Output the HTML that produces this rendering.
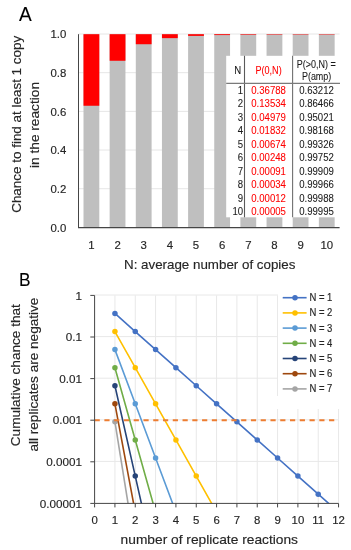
<!DOCTYPE html>
<html><head><meta charset="utf-8"><style>
html,body{margin:0;padding:0;background:#fff;width:351px;height:550px;overflow:hidden}
svg{display:block;font-family:"Liberation Sans", Arial, sans-serif}
</style></head><body>
<svg width="351" height="550" viewBox="0 0 351 550">
<rect width="351" height="550" fill="#fff"/>
<line x1="78.5" y1="188.72" x2="339.6" y2="188.72" stroke="#e6e6e6" stroke-width="1"/>
<line x1="78.5" y1="150.04" x2="339.6" y2="150.04" stroke="#e6e6e6" stroke-width="1"/>
<line x1="78.5" y1="111.36" x2="339.6" y2="111.36" stroke="#e6e6e6" stroke-width="1"/>
<line x1="78.5" y1="72.68" x2="339.6" y2="72.68" stroke="#e6e6e6" stroke-width="1"/>
<line x1="78.5" y1="34.0" x2="339.6" y2="34.0" stroke="#e6e6e6" stroke-width="1"/>
<rect x="83.50" y="34.20" width="15.8" height="193.40" fill="#bfbfbf"/>
<rect x="83.50" y="34.20" width="15.8" height="71.55" fill="#ff0000"/>
<rect x="109.65" y="34.20" width="15.8" height="193.40" fill="#bfbfbf"/>
<rect x="109.65" y="34.20" width="15.8" height="26.57" fill="#ff0000"/>
<rect x="135.80" y="34.20" width="15.8" height="193.40" fill="#bfbfbf"/>
<rect x="135.80" y="34.20" width="15.8" height="10.03" fill="#ff0000"/>
<rect x="161.95" y="34.20" width="15.8" height="193.40" fill="#bfbfbf"/>
<rect x="161.95" y="34.20" width="15.8" height="3.94" fill="#ff0000"/>
<rect x="188.10" y="34.20" width="15.8" height="193.40" fill="#bfbfbf"/>
<rect x="188.10" y="34.20" width="15.8" height="1.70" fill="#ff0000"/>
<rect x="214.25" y="34.20" width="15.8" height="193.40" fill="#bfbfbf"/>
<rect x="214.25" y="34.20" width="15.8" height="0.88" fill="#ff0000"/>
<rect x="240.40" y="34.20" width="15.8" height="193.40" fill="#bfbfbf"/>
<rect x="240.40" y="34.20" width="15.8" height="0.58" fill="#ff0000"/>
<rect x="266.55" y="34.20" width="15.8" height="193.40" fill="#bfbfbf"/>
<rect x="266.55" y="34.20" width="15.8" height="0.47" fill="#ff0000"/>
<rect x="292.70" y="34.20" width="15.8" height="193.40" fill="#bfbfbf"/>
<rect x="292.70" y="34.20" width="15.8" height="0.42" fill="#ff0000"/>
<rect x="318.85" y="34.20" width="15.8" height="193.40" fill="#bfbfbf"/>
<rect x="318.85" y="34.20" width="15.8" height="0.41" fill="#ff0000"/>
<line x1="78.5" y1="34.2" x2="78.5" y2="227.6" stroke="#454545" stroke-width="1"/>
<line x1="78.0" y1="227.7" x2="339.6" y2="227.7" stroke="#454545" stroke-width="1.2"/>
<text x="66.3" y="231.70" text-anchor="end" font-size="11.4" fill="#262626" stroke="#262626" stroke-width="0.15">0.0</text>
<text x="66.3" y="193.02" text-anchor="end" font-size="11.4" fill="#262626" stroke="#262626" stroke-width="0.15">0.2</text>
<text x="66.3" y="154.34" text-anchor="end" font-size="11.4" fill="#262626" stroke="#262626" stroke-width="0.15">0.4</text>
<text x="66.3" y="115.66" text-anchor="end" font-size="11.4" fill="#262626" stroke="#262626" stroke-width="0.15">0.6</text>
<text x="66.3" y="76.98" text-anchor="end" font-size="11.4" fill="#262626" stroke="#262626" stroke-width="0.15">0.8</text>
<text x="66.3" y="38.30" text-anchor="end" font-size="11.4" fill="#262626" stroke="#262626" stroke-width="0.15">1.0</text>
<text x="91.40" y="249.1" text-anchor="middle" font-size="11.4" fill="#262626" stroke="#262626" stroke-width="0.15">1</text>
<text x="117.55" y="249.1" text-anchor="middle" font-size="11.4" fill="#262626" stroke="#262626" stroke-width="0.15">2</text>
<text x="143.70" y="249.1" text-anchor="middle" font-size="11.4" fill="#262626" stroke="#262626" stroke-width="0.15">3</text>
<text x="169.85" y="249.1" text-anchor="middle" font-size="11.4" fill="#262626" stroke="#262626" stroke-width="0.15">4</text>
<text x="196.00" y="249.1" text-anchor="middle" font-size="11.4" fill="#262626" stroke="#262626" stroke-width="0.15">5</text>
<text x="222.15" y="249.1" text-anchor="middle" font-size="11.4" fill="#262626" stroke="#262626" stroke-width="0.15">6</text>
<text x="248.30" y="249.1" text-anchor="middle" font-size="11.4" fill="#262626" stroke="#262626" stroke-width="0.15">7</text>
<text x="274.45" y="249.1" text-anchor="middle" font-size="11.4" fill="#262626" stroke="#262626" stroke-width="0.15">8</text>
<text x="300.60" y="249.1" text-anchor="middle" font-size="11.4" fill="#262626" stroke="#262626" stroke-width="0.15">9</text>
<text x="326.75" y="249.1" text-anchor="middle" font-size="11.4" fill="#262626" stroke="#262626" stroke-width="0.15">10</text>
<text x="209.7" y="269.3" text-anchor="middle" font-size="13.4" fill="#262626" stroke="#262626" stroke-width="0.15" textLength="171.4" lengthAdjust="spacingAndGlyphs">N: average number of copies</text>
<text transform="translate(21.4,124.3) rotate(-90)" text-anchor="middle" font-size="13.4" fill="#262626" stroke="#262626" stroke-width="0.15" textLength="177" lengthAdjust="spacingAndGlyphs">Chance to find at least 1 copy</text>
<text transform="translate(39.2,125) rotate(-90)" text-anchor="middle" font-size="13.4" fill="#262626" stroke="#262626" stroke-width="0.15" textLength="86" lengthAdjust="spacingAndGlyphs">in the reaction</text>
<text transform="translate(18.9,20.9) scale(0.96,1)" font-size="19.9" fill="#000" stroke="#000" stroke-width="0.08">A</text>
<rect x="226.2" y="55.8" width="113.80000000000001" height="161.5" fill="#fff"/>
<line x1="244.5" y1="55.8" x2="244.5" y2="217.3" stroke="#5a5a5a" stroke-width="1.1"/>
<line x1="292.6" y1="55.8" x2="292.6" y2="217.3" stroke="#707070" stroke-width="1.1"/>
<line x1="226.2" y1="83.4" x2="340" y2="83.4" stroke="#7a7a7a" stroke-width="1.1"/>
<text transform="translate(237.80,73.60) scale(0.9320,1)" text-anchor="middle" font-size="10.3" fill="#1a1a1a" stroke="#1a1a1a" stroke-width="0.08">N</text>
<text transform="translate(268.60,74.00) scale(0.8800,1)" text-anchor="middle" font-size="10.3" fill="#ff0000" stroke="#ff0000" stroke-width="0.08">P(0,N)</text>
<text transform="translate(316.30,67.70) scale(0.8735,1)" text-anchor="middle" font-size="10.3" fill="#1a1a1a" stroke="#1a1a1a" stroke-width="0.08">P(&gt;0,N) =</text>
<text transform="translate(316.60,80.10) scale(0.8708,1)" text-anchor="middle" font-size="10.3" fill="#1a1a1a" stroke="#1a1a1a" stroke-width="0.08">P(amp)</text>
<text transform="translate(243.20,93.90) scale(0.9320,1)" text-anchor="end" font-size="10.3" fill="#1a1a1a" stroke="#1a1a1a" stroke-width="0.08">1</text>
<text transform="translate(268.60,93.90) scale(0.9320,1)" text-anchor="middle" font-size="10.3" fill="#ff0000" stroke="#ff0000" stroke-width="0.08">0.36788</text>
<text transform="translate(316.50,93.90) scale(0.9320,1)" text-anchor="middle" font-size="10.3" fill="#1a1a1a" stroke="#1a1a1a" stroke-width="0.08">0.63212</text>
<text transform="translate(243.20,107.35) scale(0.9320,1)" text-anchor="end" font-size="10.3" fill="#1a1a1a" stroke="#1a1a1a" stroke-width="0.08">2</text>
<text transform="translate(268.60,107.35) scale(0.9320,1)" text-anchor="middle" font-size="10.3" fill="#ff0000" stroke="#ff0000" stroke-width="0.08">0.13534</text>
<text transform="translate(316.50,107.35) scale(0.9320,1)" text-anchor="middle" font-size="10.3" fill="#1a1a1a" stroke="#1a1a1a" stroke-width="0.08">0.86466</text>
<text transform="translate(243.20,120.80) scale(0.9320,1)" text-anchor="end" font-size="10.3" fill="#1a1a1a" stroke="#1a1a1a" stroke-width="0.08">3</text>
<text transform="translate(268.60,120.80) scale(0.9320,1)" text-anchor="middle" font-size="10.3" fill="#ff0000" stroke="#ff0000" stroke-width="0.08">0.04979</text>
<text transform="translate(316.50,120.80) scale(0.9320,1)" text-anchor="middle" font-size="10.3" fill="#1a1a1a" stroke="#1a1a1a" stroke-width="0.08">0.95021</text>
<text transform="translate(243.20,134.25) scale(0.9320,1)" text-anchor="end" font-size="10.3" fill="#1a1a1a" stroke="#1a1a1a" stroke-width="0.08">4</text>
<text transform="translate(268.60,134.25) scale(0.9320,1)" text-anchor="middle" font-size="10.3" fill="#ff0000" stroke="#ff0000" stroke-width="0.08">0.01832</text>
<text transform="translate(316.50,134.25) scale(0.9320,1)" text-anchor="middle" font-size="10.3" fill="#1a1a1a" stroke="#1a1a1a" stroke-width="0.08">0.98168</text>
<text transform="translate(243.20,147.70) scale(0.9320,1)" text-anchor="end" font-size="10.3" fill="#1a1a1a" stroke="#1a1a1a" stroke-width="0.08">5</text>
<text transform="translate(268.60,147.70) scale(0.9320,1)" text-anchor="middle" font-size="10.3" fill="#ff0000" stroke="#ff0000" stroke-width="0.08">0.00674</text>
<text transform="translate(316.50,147.70) scale(0.9320,1)" text-anchor="middle" font-size="10.3" fill="#1a1a1a" stroke="#1a1a1a" stroke-width="0.08">0.99326</text>
<text transform="translate(243.20,161.15) scale(0.9320,1)" text-anchor="end" font-size="10.3" fill="#1a1a1a" stroke="#1a1a1a" stroke-width="0.08">6</text>
<text transform="translate(268.60,161.15) scale(0.9320,1)" text-anchor="middle" font-size="10.3" fill="#ff0000" stroke="#ff0000" stroke-width="0.08">0.00248</text>
<text transform="translate(316.50,161.15) scale(0.9320,1)" text-anchor="middle" font-size="10.3" fill="#1a1a1a" stroke="#1a1a1a" stroke-width="0.08">0.99752</text>
<text transform="translate(243.20,174.60) scale(0.9320,1)" text-anchor="end" font-size="10.3" fill="#1a1a1a" stroke="#1a1a1a" stroke-width="0.08">7</text>
<text transform="translate(268.60,174.60) scale(0.9320,1)" text-anchor="middle" font-size="10.3" fill="#ff0000" stroke="#ff0000" stroke-width="0.08">0.00091</text>
<text transform="translate(316.50,174.60) scale(0.9320,1)" text-anchor="middle" font-size="10.3" fill="#1a1a1a" stroke="#1a1a1a" stroke-width="0.08">0.99909</text>
<text transform="translate(243.20,188.05) scale(0.9320,1)" text-anchor="end" font-size="10.3" fill="#1a1a1a" stroke="#1a1a1a" stroke-width="0.08">8</text>
<text transform="translate(268.60,188.05) scale(0.9320,1)" text-anchor="middle" font-size="10.3" fill="#ff0000" stroke="#ff0000" stroke-width="0.08">0.00034</text>
<text transform="translate(316.50,188.05) scale(0.9320,1)" text-anchor="middle" font-size="10.3" fill="#1a1a1a" stroke="#1a1a1a" stroke-width="0.08">0.99966</text>
<text transform="translate(243.20,201.50) scale(0.9320,1)" text-anchor="end" font-size="10.3" fill="#1a1a1a" stroke="#1a1a1a" stroke-width="0.08">9</text>
<text transform="translate(268.60,201.50) scale(0.9320,1)" text-anchor="middle" font-size="10.3" fill="#ff0000" stroke="#ff0000" stroke-width="0.08">0.00012</text>
<text transform="translate(316.50,201.50) scale(0.9320,1)" text-anchor="middle" font-size="10.3" fill="#1a1a1a" stroke="#1a1a1a" stroke-width="0.08">0.99988</text>
<text transform="translate(243.20,214.95) scale(0.9320,1)" text-anchor="end" font-size="10.3" fill="#1a1a1a" stroke="#1a1a1a" stroke-width="0.08">10</text>
<text transform="translate(268.60,214.95) scale(0.9320,1)" text-anchor="middle" font-size="10.3" fill="#ff0000" stroke="#ff0000" stroke-width="0.08">0.00005</text>
<text transform="translate(316.50,214.95) scale(0.9320,1)" text-anchor="middle" font-size="10.3" fill="#1a1a1a" stroke="#1a1a1a" stroke-width="0.08">0.99995</text>
<line x1="94.6" y1="295.0" x2="278" y2="295.0" stroke="#e8e8e8" stroke-width="1"/>
<line x1="94.6" y1="336.6" x2="278" y2="336.6" stroke="#e8e8e8" stroke-width="1"/>
<line x1="94.6" y1="378.2" x2="278" y2="378.2" stroke="#e8e8e8" stroke-width="1"/>
<line x1="94.6" y1="419.8" x2="338.55999999999995" y2="419.8" stroke="#e8e8e8" stroke-width="1"/>
<line x1="94.6" y1="461.4" x2="338.55999999999995" y2="461.4" stroke="#e8e8e8" stroke-width="1"/>
<line x1="114.93" y1="295.4" x2="114.93" y2="503.4" stroke="#e8e8e8" stroke-width="1"/>
<line x1="135.26" y1="295.4" x2="135.26" y2="503.4" stroke="#e8e8e8" stroke-width="1"/>
<line x1="155.59" y1="295.4" x2="155.59" y2="503.4" stroke="#e8e8e8" stroke-width="1"/>
<line x1="175.92" y1="295.4" x2="175.92" y2="503.4" stroke="#e8e8e8" stroke-width="1"/>
<line x1="196.25" y1="295.4" x2="196.25" y2="503.4" stroke="#e8e8e8" stroke-width="1"/>
<line x1="216.58" y1="295.4" x2="216.58" y2="503.4" stroke="#e8e8e8" stroke-width="1"/>
<line x1="236.91" y1="295.4" x2="236.91" y2="503.4" stroke="#e8e8e8" stroke-width="1"/>
<line x1="257.24" y1="295.4" x2="257.24" y2="503.4" stroke="#e8e8e8" stroke-width="1"/>
<line x1="277.57" y1="295.4" x2="277.57" y2="396" stroke="#e8e8e8" stroke-width="1"/>
<line x1="277.57" y1="409" x2="277.57" y2="503.4" stroke="#e8e8e8" stroke-width="1"/>
<line x1="297.9" y1="409" x2="297.9" y2="503.4" stroke="#e8e8e8" stroke-width="1"/>
<line x1="318.23" y1="409" x2="318.23" y2="503.4" stroke="#e8e8e8" stroke-width="1"/>
<line x1="338.56" y1="409" x2="338.56" y2="503.4" stroke="#e8e8e8" stroke-width="1"/>
<defs><clipPath id="cp"><rect x="94.6" y="290.4" width="248.95999999999995" height="213.0"/></clipPath></defs>
<polyline points="114.93,421.87 135.26,548.33" fill="none" stroke="#a5a5a5" stroke-width="1.6" clip-path="url(#cp)"/>
<circle cx="114.93" cy="421.87" r="2.75" fill="#a5a5a5"/>
<polyline points="114.93,403.80 135.26,512.20" fill="none" stroke="#9e480e" stroke-width="1.6" clip-path="url(#cp)"/>
<circle cx="114.93" cy="403.80" r="2.75" fill="#9e480e"/>
<polyline points="114.93,385.73 135.26,476.07 155.59,566.40" fill="none" stroke="#264478" stroke-width="1.6" clip-path="url(#cp)"/>
<circle cx="114.93" cy="385.73" r="2.75" fill="#264478"/>
<circle cx="135.26" cy="476.07" r="2.75" fill="#264478"/>
<polyline points="114.93,367.67 135.26,439.93 155.59,512.20" fill="none" stroke="#70ad47" stroke-width="1.6" clip-path="url(#cp)"/>
<circle cx="114.93" cy="367.67" r="2.75" fill="#70ad47"/>
<circle cx="135.26" cy="439.93" r="2.75" fill="#70ad47"/>
<polyline points="114.93,349.60 135.26,403.80 155.59,458.00 175.92,512.20" fill="none" stroke="#5b9bd5" stroke-width="1.6" clip-path="url(#cp)"/>
<circle cx="114.93" cy="349.60" r="2.75" fill="#5b9bd5"/>
<circle cx="135.26" cy="403.80" r="2.75" fill="#5b9bd5"/>
<circle cx="155.59" cy="458.00" r="2.75" fill="#5b9bd5"/>
<polyline points="114.93,331.53 135.26,367.67 155.59,403.80 175.92,439.93 196.25,476.07 216.58,512.20" fill="none" stroke="#ffc000" stroke-width="1.6" clip-path="url(#cp)"/>
<circle cx="114.93" cy="331.53" r="2.75" fill="#ffc000"/>
<circle cx="135.26" cy="367.67" r="2.75" fill="#ffc000"/>
<circle cx="155.59" cy="403.80" r="2.75" fill="#ffc000"/>
<circle cx="175.92" cy="439.93" r="2.75" fill="#ffc000"/>
<circle cx="196.25" cy="476.07" r="2.75" fill="#ffc000"/>
<polyline points="114.93,313.47 135.26,331.53 155.59,349.60 175.92,367.67 196.25,385.73 216.58,403.80 236.91,421.87 257.24,439.93 277.57,458.00 297.90,476.07 318.23,494.13 338.56,512.20" fill="none" stroke="#4472c4" stroke-width="1.6" clip-path="url(#cp)"/>
<circle cx="114.93" cy="313.47" r="2.75" fill="#4472c4"/>
<circle cx="135.26" cy="331.53" r="2.75" fill="#4472c4"/>
<circle cx="155.59" cy="349.60" r="2.75" fill="#4472c4"/>
<circle cx="175.92" cy="367.67" r="2.75" fill="#4472c4"/>
<circle cx="196.25" cy="385.73" r="2.75" fill="#4472c4"/>
<circle cx="216.58" cy="403.80" r="2.75" fill="#4472c4"/>
<circle cx="236.91" cy="421.87" r="2.75" fill="#4472c4"/>
<circle cx="257.24" cy="439.93" r="2.75" fill="#4472c4"/>
<circle cx="277.57" cy="458.00" r="2.75" fill="#4472c4"/>
<circle cx="297.90" cy="476.07" r="2.75" fill="#4472c4"/>
<circle cx="318.23" cy="494.13" r="2.75" fill="#4472c4"/>
<line x1="94.6" y1="420.20" x2="338.56" y2="420.20" stroke="#ed7d31" stroke-width="2" stroke-dasharray="5.2 4.57"/>
<line x1="94.6" y1="295.4" x2="94.6" y2="503.4" stroke="#454545" stroke-width="1"/>
<line x1="94.6" y1="503.4" x2="338.55999999999995" y2="503.4" stroke="#454545" stroke-width="1"/>
<line x1="90.3" y1="295.40" x2="94.6" y2="295.40" stroke="#454545" stroke-width="1"/>
<line x1="90.3" y1="337.00" x2="94.6" y2="337.00" stroke="#454545" stroke-width="1"/>
<line x1="90.3" y1="378.60" x2="94.6" y2="378.60" stroke="#454545" stroke-width="1"/>
<line x1="90.3" y1="420.20" x2="94.6" y2="420.20" stroke="#454545" stroke-width="1"/>
<line x1="90.3" y1="461.80" x2="94.6" y2="461.80" stroke="#454545" stroke-width="1"/>
<line x1="90.3" y1="503.40" x2="94.6" y2="503.40" stroke="#454545" stroke-width="1"/>
<line x1="94.60" y1="503.4" x2="94.60" y2="507.4" stroke="#454545" stroke-width="1"/>
<line x1="114.93" y1="503.4" x2="114.93" y2="507.4" stroke="#454545" stroke-width="1"/>
<line x1="135.26" y1="503.4" x2="135.26" y2="507.4" stroke="#454545" stroke-width="1"/>
<line x1="155.59" y1="503.4" x2="155.59" y2="507.4" stroke="#454545" stroke-width="1"/>
<line x1="175.92" y1="503.4" x2="175.92" y2="507.4" stroke="#454545" stroke-width="1"/>
<line x1="196.25" y1="503.4" x2="196.25" y2="507.4" stroke="#454545" stroke-width="1"/>
<line x1="216.58" y1="503.4" x2="216.58" y2="507.4" stroke="#454545" stroke-width="1"/>
<line x1="236.91" y1="503.4" x2="236.91" y2="507.4" stroke="#454545" stroke-width="1"/>
<line x1="257.24" y1="503.4" x2="257.24" y2="507.4" stroke="#454545" stroke-width="1"/>
<line x1="277.57" y1="503.4" x2="277.57" y2="507.4" stroke="#454545" stroke-width="1"/>
<line x1="297.90" y1="503.4" x2="297.90" y2="507.4" stroke="#454545" stroke-width="1"/>
<line x1="318.23" y1="503.4" x2="318.23" y2="507.4" stroke="#454545" stroke-width="1"/>
<line x1="338.56" y1="503.4" x2="338.56" y2="507.4" stroke="#454545" stroke-width="1"/>
<text x="82.0" y="299.60" text-anchor="end" font-size="11.7" fill="#262626" stroke="#262626" stroke-width="0.15">1</text>
<text x="82.0" y="341.20" text-anchor="end" font-size="11.7" fill="#262626" stroke="#262626" stroke-width="0.15">0.1</text>
<text x="82.0" y="382.80" text-anchor="end" font-size="11.7" fill="#262626" stroke="#262626" stroke-width="0.15">0.01</text>
<text x="82.0" y="424.40" text-anchor="end" font-size="11.7" fill="#262626" stroke="#262626" stroke-width="0.15">0.001</text>
<text x="82.0" y="466.00" text-anchor="end" font-size="11.7" fill="#262626" stroke="#262626" stroke-width="0.15">0.0001</text>
<text x="82.0" y="507.60" text-anchor="end" font-size="11.7" fill="#262626" stroke="#262626" stroke-width="0.15">0.00001</text>
<text x="94.60" y="524.2" text-anchor="middle" font-size="11.4" fill="#262626" stroke="#262626" stroke-width="0.15">0</text>
<text x="114.93" y="524.2" text-anchor="middle" font-size="11.4" fill="#262626" stroke="#262626" stroke-width="0.15">1</text>
<text x="135.26" y="524.2" text-anchor="middle" font-size="11.4" fill="#262626" stroke="#262626" stroke-width="0.15">2</text>
<text x="155.59" y="524.2" text-anchor="middle" font-size="11.4" fill="#262626" stroke="#262626" stroke-width="0.15">3</text>
<text x="175.92" y="524.2" text-anchor="middle" font-size="11.4" fill="#262626" stroke="#262626" stroke-width="0.15">4</text>
<text x="196.25" y="524.2" text-anchor="middle" font-size="11.4" fill="#262626" stroke="#262626" stroke-width="0.15">5</text>
<text x="216.58" y="524.2" text-anchor="middle" font-size="11.4" fill="#262626" stroke="#262626" stroke-width="0.15">6</text>
<text x="236.91" y="524.2" text-anchor="middle" font-size="11.4" fill="#262626" stroke="#262626" stroke-width="0.15">7</text>
<text x="257.24" y="524.2" text-anchor="middle" font-size="11.4" fill="#262626" stroke="#262626" stroke-width="0.15">8</text>
<text x="277.57" y="524.2" text-anchor="middle" font-size="11.4" fill="#262626" stroke="#262626" stroke-width="0.15">9</text>
<text x="297.90" y="524.2" text-anchor="middle" font-size="11.4" fill="#262626" stroke="#262626" stroke-width="0.15">10</text>
<text x="318.23" y="524.2" text-anchor="middle" font-size="11.4" fill="#262626" stroke="#262626" stroke-width="0.15">11</text>
<text x="338.56" y="524.2" text-anchor="middle" font-size="11.4" fill="#262626" stroke="#262626" stroke-width="0.15">12</text>
<text x="209.3" y="543.5" text-anchor="middle" font-size="13.4" fill="#262626" stroke="#262626" stroke-width="0.15" textLength="177.4" lengthAdjust="spacingAndGlyphs">number of replicate reactions</text>
<text transform="translate(20.2,375.2) rotate(-90)" text-anchor="middle" font-size="13.4" fill="#262626" stroke="#262626" stroke-width="0.15" textLength="142" lengthAdjust="spacingAndGlyphs">Cumulative chance that</text>
<text transform="translate(37.9,374.6) rotate(-90)" text-anchor="middle" font-size="13.4" fill="#262626" stroke="#262626" stroke-width="0.15" textLength="154" lengthAdjust="spacingAndGlyphs">all replicates are negative</text>
<text transform="translate(19.0,285.9) scale(0.93,1)" font-size="18.6" fill="#000" stroke="#000" stroke-width="0.08">B</text>
<rect x="278.5" y="288" width="73" height="121" fill="#fff"/>
<line x1="282.7" y1="297.70" x2="306.6" y2="297.70" stroke="#4472c4" stroke-width="1.6"/>
<circle cx="295" cy="297.70" r="2.75" fill="#4472c4"/>
<text transform="translate(309.4,301.10) scale(0.95,1)" font-size="10" fill="#262626" stroke="#262626" stroke-width="0.15">N = 1</text>
<line x1="282.7" y1="312.90" x2="306.6" y2="312.90" stroke="#ffc000" stroke-width="1.6"/>
<circle cx="295" cy="312.90" r="2.75" fill="#ffc000"/>
<text transform="translate(309.4,316.30) scale(0.95,1)" font-size="10" fill="#262626" stroke="#262626" stroke-width="0.15">N = 2</text>
<line x1="282.7" y1="328.10" x2="306.6" y2="328.10" stroke="#5b9bd5" stroke-width="1.6"/>
<circle cx="295" cy="328.10" r="2.75" fill="#5b9bd5"/>
<text transform="translate(309.4,331.50) scale(0.95,1)" font-size="10" fill="#262626" stroke="#262626" stroke-width="0.15">N = 3</text>
<line x1="282.7" y1="343.30" x2="306.6" y2="343.30" stroke="#70ad47" stroke-width="1.6"/>
<circle cx="295" cy="343.30" r="2.75" fill="#70ad47"/>
<text transform="translate(309.4,346.70) scale(0.95,1)" font-size="10" fill="#262626" stroke="#262626" stroke-width="0.15">N = 4</text>
<line x1="282.7" y1="358.50" x2="306.6" y2="358.50" stroke="#264478" stroke-width="1.6"/>
<circle cx="295" cy="358.50" r="2.75" fill="#264478"/>
<text transform="translate(309.4,361.90) scale(0.95,1)" font-size="10" fill="#262626" stroke="#262626" stroke-width="0.15">N = 5</text>
<line x1="282.7" y1="373.70" x2="306.6" y2="373.70" stroke="#9e480e" stroke-width="1.6"/>
<circle cx="295" cy="373.70" r="2.75" fill="#9e480e"/>
<text transform="translate(309.4,377.10) scale(0.95,1)" font-size="10" fill="#262626" stroke="#262626" stroke-width="0.15">N = 6</text>
<line x1="282.7" y1="388.90" x2="306.6" y2="388.90" stroke="#a5a5a5" stroke-width="1.6"/>
<circle cx="295" cy="388.90" r="2.75" fill="#a5a5a5"/>
<text transform="translate(309.4,392.30) scale(0.95,1)" font-size="10" fill="#262626" stroke="#262626" stroke-width="0.15">N = 7</text>
</svg>
</body></html>
